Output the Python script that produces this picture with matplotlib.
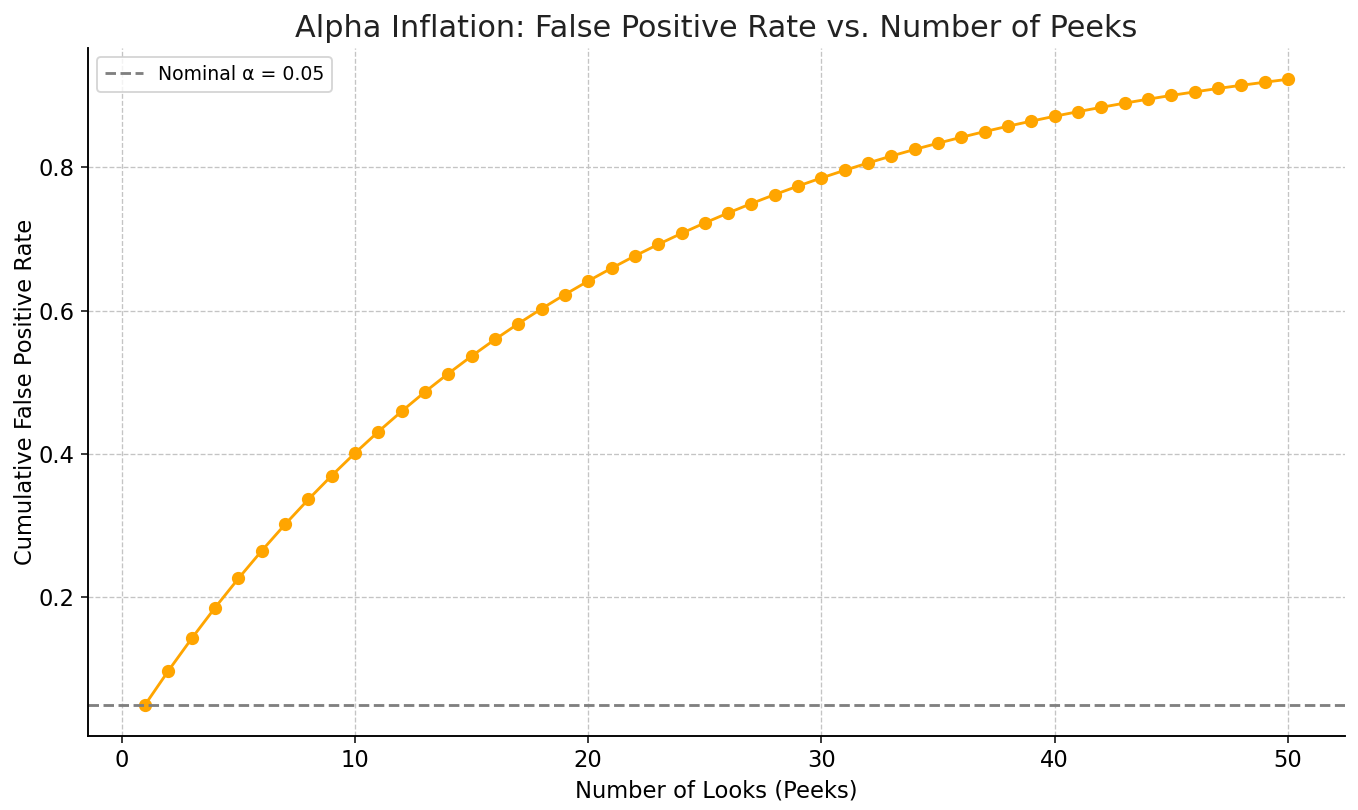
import matplotlib
matplotlib.use("Agg")
import matplotlib.pyplot as plt

looks = list(range(1, 51))
fpr = [0.0500, 0.0975, 0.1426, 0.1855, 0.2262, 0.2649, 0.3017, 0.3366, 0.3698, 0.4013,
       0.4312, 0.4596, 0.4867, 0.5123, 0.5367, 0.5599, 0.5819, 0.6028, 0.6226, 0.6415,
       0.6594, 0.6765, 0.6926, 0.7080, 0.7226, 0.7365, 0.7497, 0.7622, 0.7741, 0.7854,
       0.7961, 0.8063, 0.8160, 0.8252, 0.8339, 0.8422, 0.8501, 0.8576, 0.8647, 0.8715,
       0.8779, 0.8840, 0.8898, 0.8953, 0.9006, 0.9055, 0.9103, 0.9147, 0.9190, 0.9231]
alpha = 0.05

dpi = 136
fig = plt.figure(figsize=(1358 / dpi, 810 / dpi), dpi=dpi)
ax = fig.add_axes([0.0648, 0.0914, 0.9256, 0.8493])

ax.plot(looks, fpr, marker='o', color='orange', linewidth=1.5, markersize=6)
ax.axhline(alpha, color='gray', linestyle='--', linewidth=1.5, label='Nominal α = 0.05')

ax.set_title('Alpha Inflation: False Positive Rate vs. Number of Peeks', fontsize=16, color='#222222')
ax.set_xlabel('Number of Looks (Peeks)', fontsize=12)
ax.set_ylabel('Cumulative False Positive Rate', fontsize=12, labelpad=1)
ax.tick_params(labelsize=12)
ax.set_yticks([0.2, 0.4, 0.6, 0.8])
ax.set_xticks([0, 10, 20, 30, 40, 50])
ax.grid(True, linestyle='--', color='#c4c4c4', linewidth=0.7)
for s in ('left', 'bottom'):
    ax.spines[s].set_linewidth(1.0)
    ax.spines[s].set_color('black')
ax.spines['top'].set_visible(False)
ax.spines['right'].set_visible(False)
ax.legend(loc='upper left', fontsize=10)

fig.savefig('out.png', dpi=dpi)
